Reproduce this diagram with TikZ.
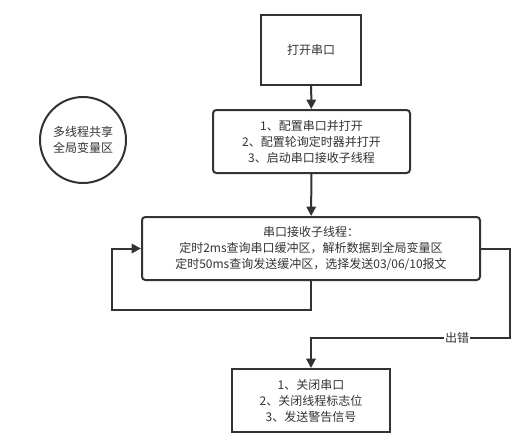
\documentclass[tikz,border=0pt]{standalone}
\usepackage{fontspec}
\setmainfont{Noto Sans CJK SC}
\usetikzlibrary{arrows.meta}
\definecolor{lncolor}{RGB}{51,51,51}
\tikzset{
  box/.style={draw=lncolor,line width=1.5pt,fill=white,align=center,text=lncolor,font=\fontsize{9}{12}\selectfont,inner sep=2pt},
  rbox/.style={box,rounded corners=2.5pt},
  flow/.style={draw=lncolor,line width=1.5pt,-{Triangle[width=7pt,length=7pt]}},
  plain/.style={draw=lncolor,line width=1.5pt}
}
\begin{document}
\begin{tikzpicture}[x=0.75pt,y=-0.75pt]
\useasboundingbox (0,0) rectangle (520,446);
	\node[box,minimum width=75pt,minimum height=52.5pt] (open) at (311,50){打开串口};
	\node[rbox,minimum width=147.75pt,minimum height=47.25pt] (cfg) at (311.5,141.5){1、配置串口并打开\\2、配置轮询定时器并打开\\3、启动串口接收子线程};
	\node[rbox,minimum width=253.5pt,minimum height=47.25pt] (rx) at (311,248.5){串口接收子线程：\\定时2ms查询串口缓冲区，解析数据到全局变量区\\定时50ms查询发送缓冲区，选择发送03/06/10报文};
	\node[box,minimum width=118.5pt,minimum height=47.25pt] (close) at (311,400.5){1、关闭串口\\2、关闭线程标志位\\3、发送警告信号};
	\node[box,circle,minimum size=64.5pt,inner sep=0pt] (share) at (83,140){多线程共享\\全局变量区};
	\coordinate (loop) at (112,310);
	\coordinate (errR) at (510,338);
	\draw[flow] (open) -- (cfg);
	\draw[flow] (cfg) -- (rx);
	\draw[flow] (rx.south) |- (loop) |- (rx.west);
	\draw[flow] (rx.east) -| (errR) -| (close.north);
	\node[fill=white,text=lncolor,font=\fontsize{9}{12}\selectfont,inner sep=1pt] (err) at (457,338){出错};
\end{tikzpicture}
\end{document}
